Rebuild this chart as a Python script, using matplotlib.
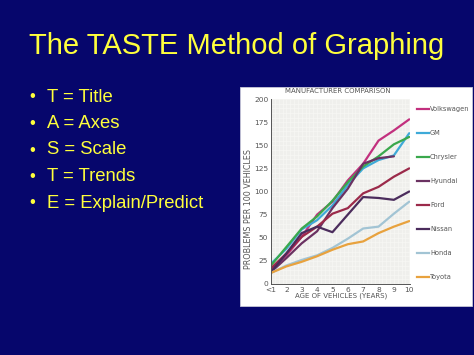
import matplotlib
matplotlib.use("Agg")
import matplotlib.pyplot as plt
from matplotlib.patches import Rectangle
from matplotlib.lines import Line2D

# ---- data ----
slide_title = "The TASTE Method of Graphing"
bullets = ["T = Title", "A = Axes", "S = Scale", "T = Trends", "E = Explain/Predict"]

chart_title = "MANUFACTURER COMPARISON"
x_label = "AGE OF VEHICLES (YEARS)"
y_label = "PROBLEMS PER 100 VEHICLES"
ages = [1, 2, 3, 4, 5, 6, 7, 8, 9, 10]
age_labels = ["<1", "2", "3", "4", "5", "6", "7", "8", "9", "10"]
y_ticks = [0, 25, 50, 75, 100, 125, 150, 175, 200]

makers = ["Volkswagen", "GM", "Chrysler", "Hyundai", "Ford", "Nissan", "Honda", "Toyota"]
colors = ["#c2307e", "#3eaad8", "#3aa84c", "#6b3262", "#9b2a4a", "#4b2c5c", "#a2c4d4", "#e8a23e"]
volkswagen = [15, 31, 51, 75, 89, 112, 130, 155, 166, 178]
gm = [22, 38, 59, 69, 85, 107, 125, 134, 139, 163]
chrysler = [20, 40, 60, 73, 90, 110, 127, 138, 151, 159]
hyundai = [13, 28, 44, 57, 82, 103, 130, 136, 138, None]
ford = [17, 33, 51, 62, 76, 82, 98, 105, 116, 125]
nissan = [13, 33, 55, 62, 56, 75, 94, 93, 91, 100]
honda = [12, 20, 26, 31, 39, 49, 60, 62, 76, 89]
toyota = [12, 19, 24, 30, 37, 43, 46, 55, 62, 68]
series = [volkswagen, gm, chrysler, hyundai, ford, nissan, honda, toyota]

W, H = 474, 355
fig = plt.figure(figsize=(W / 100, H / 100), dpi=100, facecolor="#06066c")

def fx(px):
    return px / W

def fy(py):
    return 1 - py / H

yellow = "#ffff3c"
fig.text(fx(237), fy(46), slide_title, color=yellow, fontsize=21,
         family="Liberation Sans", ha="center", va="center")
for i, b in enumerate(bullets):
    yy = fy(97 + i * 26.5)
    fig.text(fx(32), yy, "\u2022", color=yellow, fontsize=12,
             family="Liberation Sans", ha="center", va="center")
    fig.text(fx(47), yy, b, color=yellow, fontsize=13.3,
             family="Liberation Sans", ha="left", va="center")

# white panel
fig.add_artist(Rectangle((fx(240), fy(306)), (472 - 240) / W, (306 - 87) / H,
                         transform=fig.transFigure, facecolor="white",
                         edgecolor="#c8c8d8", linewidth=0.6, zorder=0))

ax = fig.add_axes([fx(271), fy(284), (410 - 271) / W, (284 - 99) / H])
ax.set_facecolor("#efefec")
ax.set_xlim(1, 10.05)
ax.set_ylim(0, 200)
for s in ["top", "right"]:
    ax.spines[s].set_visible(False)
for s in ["left", "bottom"]:
    ax.spines[s].set_color("#555555")
    ax.spines[s].set_linewidth(0.7)
ax.set_xticks(ages)
ax.set_xticklabels(age_labels)
ax.set_yticks(y_ticks)
ax.set_yticks(range(0, 201, 5), minor=True)
ax.set_xticks([1 + k * 0.25 for k in range(37)], minor=True)
ax.grid(True, which="both", color="#f8f8f6", linewidth=0.4)
ax.set_axisbelow(True)
ax.tick_params(axis="both", which="both", length=0, labelsize=5.4,
               labelcolor="#555555", pad=2)
for lab in ax.get_xticklabels() + ax.get_yticklabels():
    lab.set_family("DejaVu Sans")

for name, vals, c in zip(makers, series, colors):
    xs = [a for a, v in zip(ages, vals) if v is not None]
    ys = [v for v in vals if v is not None]
    ax.plot(xs, ys, color=c, linewidth=1.6, solid_capstyle="round")

fig.text(fx(338), fy(91), chart_title, color="#555555", fontsize=5.0,
         ha="center", va="center")
fig.text(fx(341), fy(296), x_label, color="#555555", fontsize=5.0,
         ha="center", va="center")
fig.text(fx(248), fy(209), y_label, color="#555555", fontsize=5.8,
         ha="center", va="center", rotation=90)

# legend
for i, (name, c) in enumerate(zip(makers, colors)):
    yy = fy(109 + i * 24)
    fig.add_artist(Line2D([fx(417), fx(429)], [yy, yy], color=c, linewidth=1.6,
                          transform=fig.transFigure))
    fig.text(fx(430), yy, name, color="#555555", fontsize=4.8,
             ha="left", va="center")

fig.savefig("out.png", dpi=100, facecolor=fig.get_facecolor())
